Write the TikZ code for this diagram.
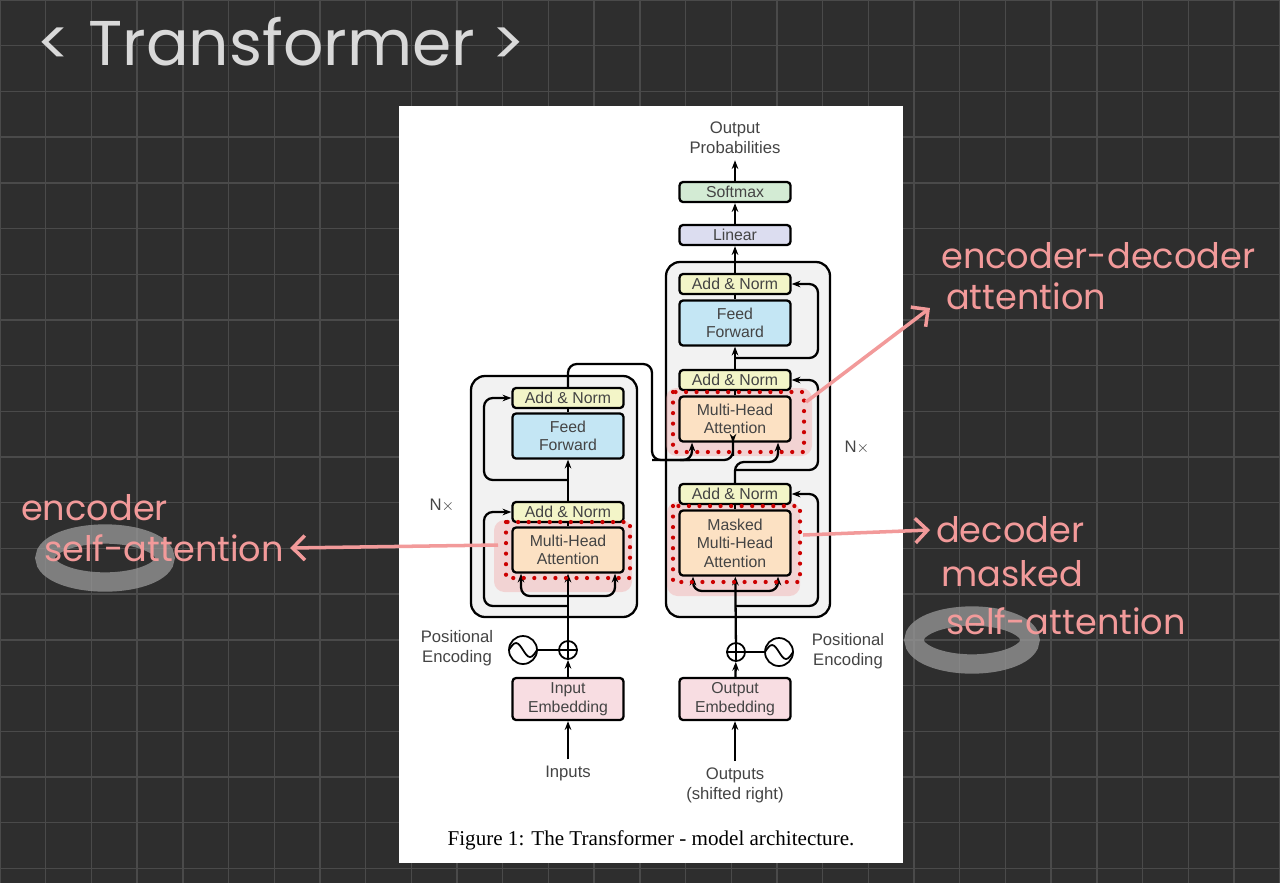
\documentclass[tikz,border=0pt]{standalone}
\usepackage{fontspec}
\setmainfont{Liberation Sans}
\newfontfamily\capfont{Liberation Serif}
\newfontfamily\handfont{Poppins}
\usetikzlibrary{positioning, calc, arrows.meta}
\definecolor{board}{HTML}{2E2E2E}
\definecolor{gridc}{HTML}{4A4A4A}
\definecolor{addc}{HTML}{F3F5C8}
\definecolor{ffc}{HTML}{C4E6F4}
\definecolor{attc}{HTML}{FCE1C3}
\definecolor{embc}{HTML}{F8DDE2}
\definecolor{linc}{HTML}{DCDDF0}
\definecolor{softc}{HTML}{D3EBD4}
\definecolor{inkp}{HTML}{F29A9A}
\definecolor{labc}{HTML}{444444}
\begin{document}
\begin{tikzpicture}[x=0.02cm, y=-0.02cm,
  blk/.style={rectangle,draw,line width=1.3pt,rounded corners=2pt,minimum width=2.22cm,inner sep=0pt,align=center,font=\fontsize{9}{10.5}\selectfont,text=labc},
  add/.style={blk,fill=addc,minimum height=0.4cm},
  ff/.style={blk,fill=ffc,minimum height=0.9cm},
  att/.style={blk,fill=attc,minimum height=0.9cm},
  emb/.style={blk,fill=embc,minimum height=0.84cm},
  lab/.style={font=\fontsize{9.5}{11.5}\selectfont,text=labc,align=center},
  flow/.style={line width=1.3pt,-{Stealth[length=5pt]}},
  wire/.style={line width=1.3pt,rounded corners=5pt},
  hand/.style={font=\handfont\fontsize{20}{20}\selectfont,text=inkp,anchor=west},
  dots/.style={red!80!black,line width=2.4pt,line cap=round,dash pattern=on 0pt off 6pt},
  glow/.style={fill=inkp,fill opacity=0.35,rounded corners=6pt},
  ring/.style={draw=gray!80,line width=11pt,opacity=0.75}]
% board and grid
\useasboundingbox (0,0) rectangle (1280,883);
\fill[board] (0,0) rectangle (1280,883);
\foreach \i in {0,...,28} \draw[gridc,line width=0.8pt] (\i*45.7,0) -- (\i*45.7,883);
\foreach \j in {0,...,19} \draw[gridc,line width=0.8pt] (0,\j*45.7) -- (1280,\j*45.7);
\node[font=\handfont\fontsize{36}{36}\selectfont,text=white!85!black,anchor=west] (title) at (30,42) {< Transformer >};
% paper
\fill[white] (399,106) rectangle (903,863);
\draw[line width=1.3pt,fill=black!5,rounded corners=8pt] (471,376) rectangle (637,617);
\draw[line width=1.3pt,fill=black!5,rounded corners=8pt] (666,262) rectangle (830,617);
% highlights
\fill[glow] (494,520) rectangle (632,592);
\fill[glow] (666,388) rectangle (812,456);
\fill[glow] (667,502) rectangle (800,596);
% encoder
\node[add] (eadd1) at (568,512) {Add \& Norm};
\node[att] (ematt) at (568,550) {Multi-Head\\Attention};
\node[ff] (eff) at (568,436) {Feed\\Forward};
\node[add] (eadd2) at (568,398) {Add \& Norm};
\node[emb] (eemb) at (568,699) {Input\\Embedding};
\node[draw,circle,line width=1pt,minimum size=0.36cm,inner sep=0pt] (eplus) at (568,650) {};
\draw[line width=1pt] (eplus.north) -- (eplus.south) (eplus.west) -- (eplus.east);
\node[draw,circle,line width=1pt,minimum size=0.56cm] (esin) at (523,650) {};
\draw[line width=1pt] (509,650) sin (516,643) cos (523,650) sin (530,657) cos (537,650);
\node[lab] (epos) at (457,648) {Positional\\Encoding};
\node[lab] (inputs) at (568,773) {Inputs};
\node[lab] (enx) at (442,505) {N$\times$};
% decoder
\node[add] (dadd1) at (735,494) {Add \& Norm};
\node[att,minimum height=1.3cm] (dmatt) at (735,543) {Masked\\Multi-Head\\Attention};
\node[add] (dadd2) at (735,380) {Add \& Norm};
\node[att] (dcatt) at (735,419) {Multi-Head\\Attention};
\node[ff] (dff) at (735,323) {Feed\\Forward};
\node[add] (dadd3) at (735,284) {Add \& Norm};
\node[blk,fill=linc,minimum height=0.4cm] (linear) at (735,235) {Linear};
\node[blk,fill=softc,minimum height=0.4cm] (softmax) at (735,192) {Softmax};
\node[lab] (outprob) at (735,138) {Output\\Probabilities};
\node[emb] (demb) at (735,699) {Output\\Embedding};
\node[draw,circle,line width=1pt,minimum size=0.36cm,inner sep=0pt] (dplus) at (736,652) {};
\draw[line width=1pt] (dplus.north) -- (dplus.south) (dplus.west) -- (dplus.east);
\node[draw,circle,line width=1pt,minimum size=0.56cm] (dsin) at (779,652) {};
\draw[line width=1pt] (765,652) sin (772,645) cos (779,652) sin (786,659) cos (793,652);
\node[lab] (dpos) at (848,651) {Positional\\Encoding};
\node[lab] (outputs) at (735,785) {Outputs\\(shifted right)};
\node[lab] (dnx) at (857,447) {N$\times$};
\node[font=\capfont\fontsize{12}{14}\selectfont] (caption) at (651,840) {Figure 1: The Transformer - model architecture.};
% encoder wiring
\draw[flow] (inputs) -- (eemb);
\draw[flow] (eemb) -- (eplus);
\draw[line width=1pt] (esin) -- (eplus);
\draw[flow] (eplus) -- (ematt);
\draw[flow,rounded corners=5pt] (568,596) -| ($(ematt.south)+(-47,0)$);
\draw[flow,rounded corners=5pt] (568,596) -| ($(ematt.south)+(47,0)$);
\draw[flow,rounded corners=5pt] (568,606) -| (484,512) -- (eadd1.west);
\draw[line width=1.3pt] (ematt) -- (eadd1);
\draw[flow] (eadd1) -- (eff);
\draw[flow,rounded corners=5pt] (568,480) -| (484,398) -- (eadd2.west);
\draw[line width=1.3pt] (eff) -- (eadd2);
\draw[wire] (eadd2.north) |- (652,364) |- (690,460);
\draw[flow,rounded corners=5pt] (652,460) -| ($(dcatt.south)+(-43,0)$);
\draw[flow,rounded corners=5pt] (680,460) -- (733,460) -- (733,447) -- ($(dcatt.south)+(-2,0)$);
% decoder wiring
\draw[flow] (outputs) -- (demb);
\draw[flow] (demb) -- (dplus);
\draw[line width=1pt] (dsin) -- (dplus);
\draw[flow] (dplus) -- (dmatt);
\draw[flow,rounded corners=5pt] (735,591) -| ($(dmatt.south)+(-42,0)$);
\draw[flow,rounded corners=5pt] (735,591) -| ($(dmatt.south)+(43,0)$);
\draw[flow,rounded corners=5pt] (735,606) -| (818,494) -- (dadd1.east);
\draw[line width=1.3pt] (dmatt) -- (dadd1);
\draw[flow,rounded corners=5pt] (dadd1.north) |- (778,462) -- ($(dcatt.south)+(43,0)$);
\draw[flow,rounded corners=5pt] (735,470) -| (818,380) -- (dadd2.east);
\draw[line width=1.3pt] (dcatt) -- (dadd2);
\draw[flow] (dadd2) -- (dff);
\draw[flow,rounded corners=5pt] (735,358) -| (818,284) -- (dadd3.east);
\draw[line width=1.3pt] (dff) -- (dadd3);
\draw[flow] (dadd3) -- (linear);
\draw[flow] (linear) -- (softmax);
\draw[flow] (softmax) -- (outprob);
% red dotted marks
\draw[dots] (506,522) rectangle (630,578);
\draw[dots] (673,392) rectangle (804,452);
\draw[dots] (673,506) rectangle (800,582);
% annotations
\draw[ring] (105,558) ellipse (60 and 24);
\draw[ring] (972,640) ellipse (58 and 24);
\node[hand] (encA) at (15,508) {encoder};
\node[hand] (encB) at (38,548) {self-attention};
\node[hand] (decA) at (930,530) {decoder};
\node[hand] (decB) at (935,574) {masked};
\node[hand] (decC) at (940,621) {self-attention};
\node[hand] (edA) at (935,256) {encoder-decoder};
\node[hand] (edB) at (940,296) {attention};
\draw[inkp,line width=2pt,-{Straight Barb[length=7pt]}] (498,545) -- (encB.east);
\draw[inkp,line width=2pt,-{Straight Barb[length=7pt]}] (803,535) -- (decA.west);
\draw[inkp,line width=2pt,-{Straight Barb[length=7pt]}] (806,402) -- (930,308);
\end{tikzpicture}
\end{document}
